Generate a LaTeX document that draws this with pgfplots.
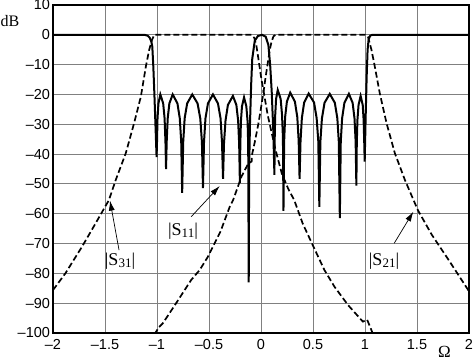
\documentclass[border=0pt]{standalone}
\usepackage{pgfplots}
\pgfplotsset{compat=1.18}
\usepackage{fontspec}
\setmainfont{Liberation Sans}
\newfontfamily\serif{Liberation Serif}
\usetikzlibrary{arrows.meta}
\newcommand{\lab}[2]{{\serif\fontsize{18}{18}\selectfont |S\raisebox{-0.28ex}{\fontsize{13}{13}\selectfont #1#2}|}}
\begin{document}
\begin{tikzpicture}[x=1pt,y=1pt]
\path[use as bounding box] (-53,-28) rectangle (421,333);
\begin{axis}[
  at={(0,0)}, anchor=south west,
  scale only axis, width=416pt, height=328pt,
  xmin=-2, xmax=2, ymin=-100, ymax=10,
  xtick={-2,-1.5,-1,-0.5,0,0.5,1,1.5,2},
  xticklabels={\textendash2,\textendash1.5,\textendash1,\textendash0.5,0,0.5,1,1.5,2},
  ytick={-100,-90,-80,-70,-60,-50,-40,-30,-20,-10,0,10},
  yticklabels={\textendash100,\textendash90,\textendash80,\textendash70,\textendash60,\textendash50,\textendash40,\textendash30,\textendash20,\textendash10,0,10},
  ticklabel style={font=\fontsize{14.5}{14.5}\selectfont},
  xticklabel style={yshift=-3pt},
  yticklabel style={xshift=0.5pt},
  tick style={draw=none},
  grid=major,
  major grid style={draw=black!50, line width=0.9pt},
  axis line style={line width=1.8pt},
  clip=true,
]
% |S11|
\addplot[black, line width=2pt] coordinates {
(-2,0) (-1.12,0) (-1.09,-0.3) (-1.07,-1) (-1.055,-2.2) (-1.045,-4) (-1.035,-11) (-1.025,-20) (-1.015,-30) (-1.004,-41)
(-1.000,-36) (-0.995,-28) (-0.986,-23) (-0.968,-20) (-0.9405,-23) (-0.927,-28) (-0.9185,-36) (-0.913,-45)
(-0.907,-36) (-0.897,-28) (-0.881,-23) (-0.849,-20) (-0.8035,-23) (-0.781,-28) (-0.767,-36) (-0.758,-53)
(-0.748,-36) (-0.734,-28) (-0.710,-23) (-0.661,-20) (-0.610,-23) (-0.584,-28) (-0.568,-36) (-0.558,-51.4)
(-0.548,-36) (-0.534,-28) (-0.510,-23) (-0.462,-20) (-0.414,-23) (-0.389,-28) (-0.375,-36) (-0.365,-48.3)
(-0.356,-36.5) (-0.341,-28.7) (-0.318,-23.5) (-0.270,-20.5) (-0.237,-23.5) (-0.220,-28.7) (-0.210,-36.5) (-0.203,-49.7)
(-0.199,-37) (-0.193,-29) (-0.183,-24) (-0.163,-21) (-0.141,-24) (-0.129,-29) (-0.123,-37) (-0.118,-83)
(-0.114,-45) (-0.106,-30) (-0.095,-17) (-0.084,-8) (-0.06,-2) (-0.03,-0.4) (0.01,0) (0.045,-0.6) (0.071,-3.4) (0.088,-10) (0.103,-19) (0.118,-32) (0.129,-47)
(0.132,-34.5) (0.137,-26.7) (0.145,-21.5) (0.161,-18.5) (0.189,-21.5) (0.202,-26.7) (0.211,-34.5) (0.216,-59)
(0.223,-35.4) (0.232,-27.6) (0.249,-22.4) (0.281,-19.4) (0.326,-22.4) (0.349,-27.6) (0.362,-35.4) (0.371,-48.3)
(0.380,-35.7) (0.393,-27.9) (0.415,-22.7) (0.458,-19.7) (0.510,-22.7) (0.535,-27.9) (0.551,-35.7) (0.561,-57.7)
(0.571,-35.8) (0.586,-28) (0.611,-22.8) (0.661,-19.8) (0.710,-22.8) (0.734,-28) (0.748,-35.8) (0.758,-61.5)
(0.767,-35.8) (0.780,-28) (0.802,-22.8) (0.845,-19.8) (0.881,-22.8) (0.899,-28) (0.910,-35.8) (0.917,-50.6)
(0.921,-36.5) (0.927,-28.7) (0.938,-23.5) (0.958,-20.5) (0.978,-23.5) (0.987,-28.7) (0.993,-36.5) (0.997,-42.5)
(1.006,-28) (1.016,-14) (1.025,-5) (1.035,-1.5) (1.05,-0.3) (1.07,0) (2,0)
};
% |S31|
\addplot[black, line width=1.7pt, dash pattern=on 6pt off 3pt] coordinates {
(-2,-85.6) (-1.881,-80) (-1.72,-71) (-1.59,-63.2) (-1.462,-55.4) (-1.397,-48.7) (-1.30,-39.7) (-1.22,-29.6) (-1.155,-20.7) (-1.107,-10.6) (-1.075,-5) (-1.048,-1.7) (-1.026,0)
(-0.09,0) (-0.065,-1) (-0.045,-3.5) (-0.025,-8) (0.0,-14) (0.03,-20) (0.065,-27) (0.10,-32.5) (0.14,-38.6) (0.2,-46.5) (0.26,-51.5) (0.319,-55.4) (0.40,-63.2) (0.497,-70.5) (0.61,-78.9) (0.707,-84.5) (0.836,-90.6) (0.98,-96.2) (1.02,-95.5) (1.05,-98) (1.078,-100.5)
};
% |S21|
\addplot[black, line width=1.7pt, dash pattern=on 6pt off 3pt] coordinates {
(-1.026,-100.5) (-0.98,-98) (-0.945,-96.8) (-0.816,-90) (-0.671,-82.2) (-0.59,-78.9) (-0.51,-74.4) (-0.39,-66) (-0.30,-57.6) (-0.268,-55.4) (-0.187,-47.5) (-0.12,-43) (-0.09,-42.5) (-0.085,-40) (-0.06,-36) (-0.026,-30) (0.0,-24.5) (0.025,-19) (0.045,-14) (0.065,-9.5) (0.085,-5) (0.1,-2.5) (0.12,-0.5) (0.14,0)
(1.0,0) (1.03,-0.8) (1.062,-5) (1.094,-10.6) (1.142,-19.6) (1.207,-29.6) (1.287,-39.7) (1.384,-48.7) (1.507,-58.7) (1.643,-67.1) (1.804,-75.5) (2,-86)
};
\draw[-{Latex[length=10pt,width=6pt]}, line width=0.7pt] (axis cs:-1.365,-72.2) -- (axis cs:-1.452,-55.6);
\draw[-{Latex[length=10pt,width=6pt]}, line width=0.7pt] (axis cs:-0.671,-61) -- (axis cs:-0.397,-50.7);
\draw[-{Latex[length=10pt,width=6pt]}, line width=0.7pt] (axis cs:1.281,-69.9) -- (axis cs:1.465,-59.3);
\end{axis}
\node at (120-53,333-261) {\lab{3}{1}};
\node at (183-53,333-231) {\lab{1}{1}};
\node at (384-53,333-261) {\lab{2}{1}};
\node at (10-53,333-21) {\serif\fontsize{16}{16}\selectfont dB};
\node at (444.5-53,333-352) {\serif\fontsize{17}{17}\selectfont Ω};
\end{tikzpicture}
\end{document}
